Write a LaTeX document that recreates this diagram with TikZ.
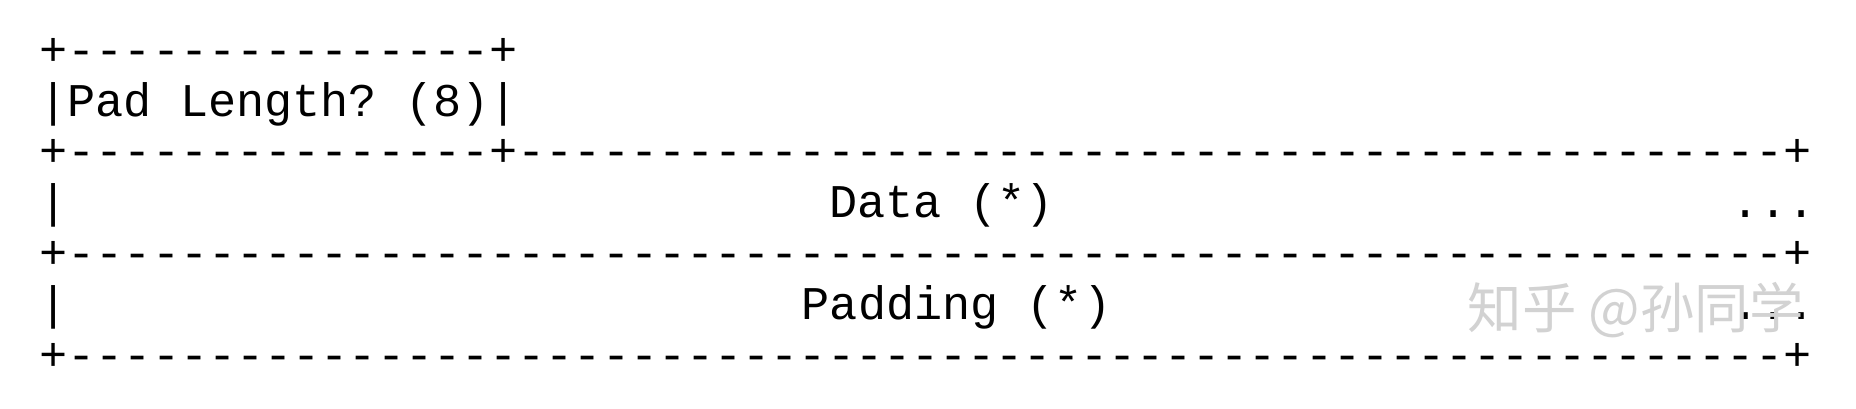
\documentclass[tikz,border=0pt]{standalone}
\usepackage{fontspec}
\setmonofont{Liberation Mono}
\newfontfamily\cjk{Noto Sans CJK SC}
\begin{document}
\begin{tikzpicture}[x=0.5pt,y=-0.5pt,
  ascii/.style={anchor=base west,inner sep=0pt,font=\ttfamily\fontsize{19.8pt}{19.8pt}\selectfont}]
\useasboundingbox (0,0) rectangle (1568,344.7);
\def\hb{+---------------+}
\def\full{---------------------------------------------+}
\node[ascii] (r0) at (33,55) {\hb};
\node[ascii] (r1) at (33,98) {|Pad Length? (8)|};
\node[ascii] (r2) at (33,141) {\hb\full};
\node[ascii] (r3a) at (33,184) {|};
\node[ascii] (r3b) at (700,184) {Data (*)};
\node[ascii] (r3c) at (1462,184) {...};
\node[ascii] (r4) at (33,227) {+----------------\full};
\node[ascii] (r5a) at (33,270) {|};
\node[ascii] (r5b) at (677,270) {Padding (*)};
\node[ascii] (r5c) at (1462,270) {...};
\node[ascii] (r6) at (33,313) {+----------------\full};
\node[anchor=center,inner sep=0pt,text=gray!35,font=\cjk\fontsize{23pt}{23pt}\selectfont] (wm) at (1382,262) {知乎 @孙同学};
\end{tikzpicture}
\end{document}
